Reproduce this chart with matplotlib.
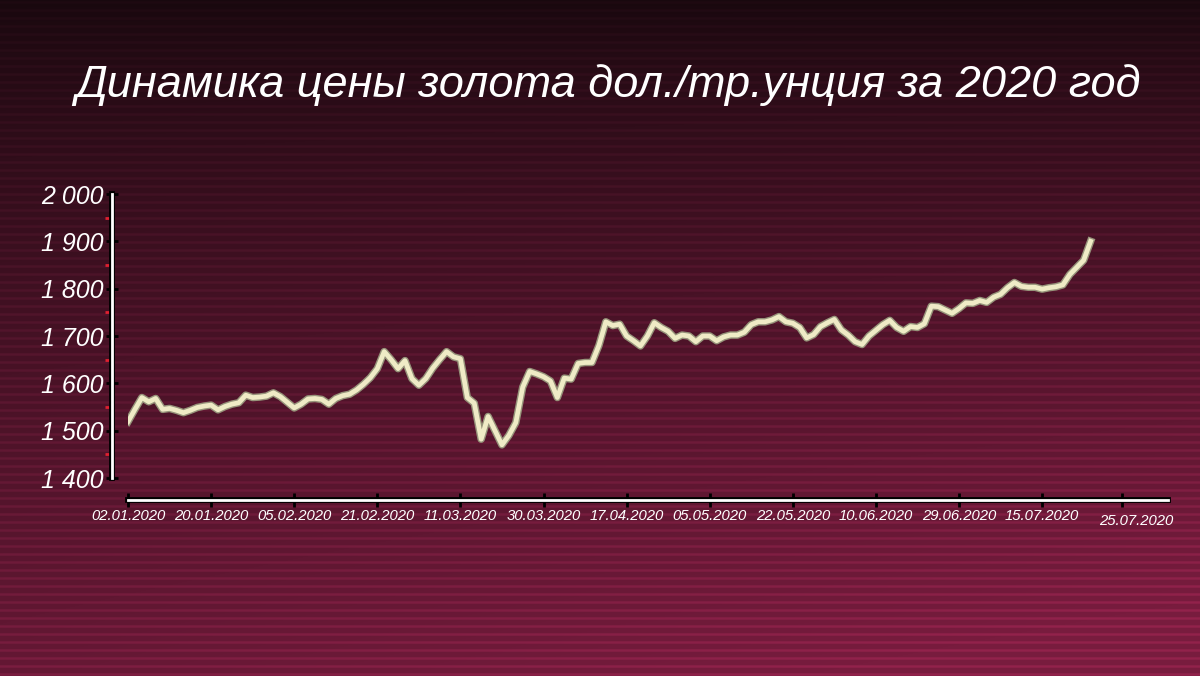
# plot.py
# Gold price dynamics 2020 (USD / troy ounce), striped maroon slide style

import numpy as np
import matplotlib
matplotlib.use("Agg")
import matplotlib.pyplot as plt
import matplotlib.patheffects as pe
import matplotlib.transforms as mtransforms
from matplotlib.ticker import MultipleLocator, FixedLocator

# ── Data (one value per trading day) ──────────────────────────────
prices = [
    1519, 1545, 1570, 1561, 1568, 1545, 1547, 1543, 1538, 1543,
    1549, 1552, 1554, 1544, 1551, 1556, 1559, 1575, 1570, 1571,
    1573, 1580, 1572, 1560, 1548, 1556, 1567, 1568, 1566, 1556,
    1568, 1574, 1577, 1586, 1598, 1612, 1631, 1667, 1650, 1631,
    1648, 1610, 1596, 1610, 1632, 1650, 1667, 1656, 1652, 1570,
    1558, 1482, 1530, 1500, 1470, 1490, 1517, 1592, 1625, 1620,
    1614, 1605, 1570, 1611, 1609, 1642, 1644, 1644, 1680, 1730,
    1722, 1725, 1700, 1690, 1679, 1700, 1728, 1718, 1710, 1695,
    1702, 1700, 1688, 1700, 1700, 1690, 1698, 1702, 1702, 1708,
    1724, 1730, 1730, 1734, 1741, 1730, 1727, 1718, 1696, 1703,
    1720, 1728, 1735, 1713, 1702, 1688, 1682, 1700, 1712, 1724,
    1733, 1718, 1710, 1720, 1718, 1726, 1763, 1762, 1755, 1748,
    1758, 1770, 1769, 1775, 1771, 1782, 1788, 1802, 1813, 1805,
    1803, 1803, 1799, 1802, 1804, 1808, 1830, 1845, 1860, 1900,
]
date_labels = ["02.01.2020", "20.01.2020", "05.02.2020", "21.02.2020",
               "11.03.2020", "30.03.2020", "17.04.2020", "05.05.2020",
               "22.05.2020", "10.06.2020", "29.06.2020", "15.07.2020",
               "25.07.2020"]
date_positions = [0, 12, 24, 36, 48, 60, 72, 84, 96, 108, 120, 132, 143.5]
y_ticks = [1400, 1500, 1600, 1700, 1800, 1900, 2000]
title = "Динамика цены золота дол./тр.унция за 2020 год"

plt.rcParams["font.family"] = ["Liberation Sans", "DejaVu Sans"]

W, H = 1200, 676
fig = plt.figure(figsize=(W / 100, H / 100), dpi=100)
PX = 72 / 100  # points per pixel

# ── Background: dark-to-maroon gradient with horizontal stripes ──
yy, xx = np.mgrid[0:H, 0:W]
t = yy / H
s = xx / W
top = np.array([24, 8, 14]) / 255
bot = np.array([120, 28, 62]) / 255
mix = np.clip(t ** 0.8 * (0.8 + 0.3 * s), 0, 1)[..., None]
bg = top * (1 - mix) + bot * mix
stripe = 1 + 0.22 * np.clip(np.sin(2 * np.pi * yy / 8.0), 0, None)[..., None]
bg = np.clip(bg * stripe, 0, 1)
bg_ax = fig.add_axes([0, 0, 1, 1], zorder=0)
bg_ax.imshow(bg, aspect="auto", extent=[0, W, H, 0])
bg_ax.axis("off")

# ── Plot area ─────────────────────────────────────────────────────
px_per_pt = 6.925
x_end = (1168 - 128) / px_per_pt
left, right = 128 / W, 1168 / W
bottom, topp = 1 - 478 / H, 1 - 194 / H
ax = fig.add_axes([left, bottom, right - left, topp - bottom], zorder=1)
ax.patch.set_alpha(0)

x = np.arange(len(prices))
ax.plot(x, prices, color="#efebc6", lw=3.4, solid_joinstyle="round",
        path_effects=[pe.Stroke(linewidth=5.4, foreground="#96937a"), pe.Normal()])

ax.set_xlim(0, x_end)
ax.set_ylim(1400, 2000)

for side in ["top", "right"]:
    ax.spines[side].set_visible(False)
spine_fx = [pe.Stroke(linewidth=4.2, foreground="black"), pe.Normal()]
ax.spines["left"].set_position(("outward", 16 * PX))
ax.spines["left"].set_bounds(1400, 2000)
ax.spines["bottom"].set_position(("outward", 22 * PX))
ax.spines["bottom"].set_bounds(0, x_end)
for side in ["left", "bottom"]:
    ax.spines[side].set_color("white")
    ax.spines[side].set_linewidth(2.0)
    ax.spines[side].set_path_effects(spine_fx)

ax.yaxis.set_major_locator(FixedLocator(y_ticks))
ax.set_yticklabels([f"{v:,}".replace(",", " ") for v in y_ticks])
ax.yaxis.set_minor_locator(MultipleLocator(50))
ax.tick_params(axis="y", which="major", direction="inout", length=8, width=2,
               color="black", labelcolor="white", labelsize=18, pad=2)
ax.tick_params(axis="y", which="minor", direction="out", length=5, width=2,
               color="#e02030")

ax.xaxis.set_major_locator(FixedLocator(date_positions))
ax.set_xticklabels(date_labels)
ax.tick_params(axis="x", which="major", direction="inout", length=10, width=2,
               color="black", labelcolor="white", labelsize=10.7, pad=1.5)
for lab in ax.get_yticklabels() + ax.get_xticklabels():
    lab.set_fontstyle("italic")

# last date label sits a little right and lower
last = ax.get_xticklabels()[-1]
last.set_transform(last.get_transform() +
                   mtransforms.ScaledTranslation(0.14, -0.05, fig.dpi_scale_trans))

# ── Title ─────────────────────────────────────────────────────────
fig.text(608 / W, 1 - 85 / H, title, ha="center", va="center",
         color="white", fontsize=32.5, fontstyle="italic")

fig.savefig("out.png", dpi=100)
